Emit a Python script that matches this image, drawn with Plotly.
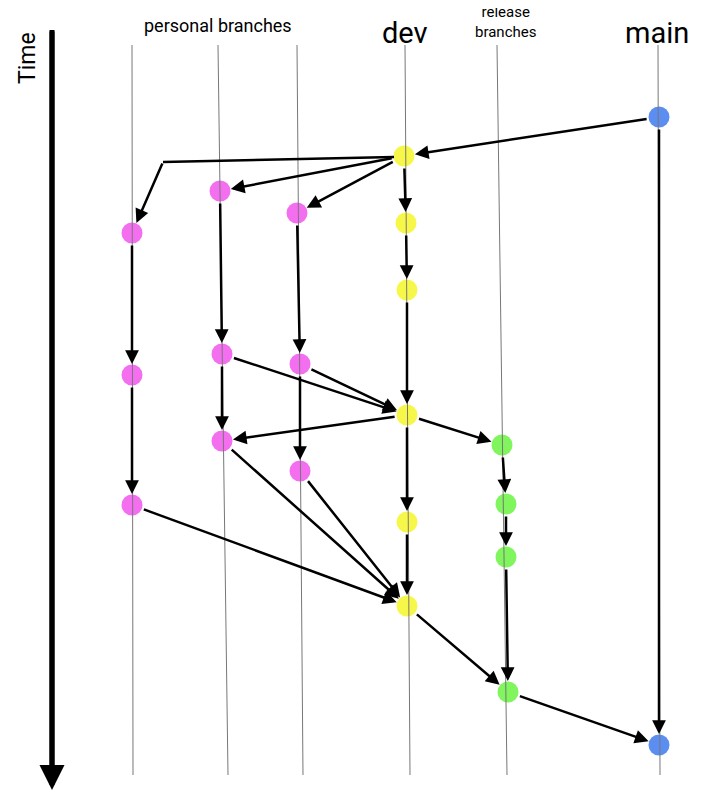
import plotly.graph_objects as go

# branch guide lines (top x, bottom x)
lane_top_x = [132, 218, 297, 405, 497, 658]
lane_bot_x = [133, 228, 303, 410, 507, 660]
lane_top_y = 45
lane_bot_y = 775

node_names = ["m1","m2","d1","d2","d3","d4","d5","d6","a1","a2","a3","b1","b2","b3","c1","c2","c3","r1","r2","r3","r4"]
node_x = [659,659,404,406,407,407,407,407,132,132,132,220,222,222,297,300,300,502,506,506,508]
node_y = [117,745,156,223,290,415,522,606,233,375,505,191,354,441,213,364,471,445,504,557,692]
BLUE, YEL, PINK, GRN = "#5b8ef0", "#f7f74a", "#f46ef0", "#80f55e"
node_col = [BLUE,BLUE]+[YEL]*6+[PINK]*9+[GRN]*4

edges = [("m1","d1"),("d1","b1"),("d1","c1"),("d1","d2"),("d2","d3"),("d3","d4"),
         ("a1","a2"),("a2","a3"),("b1","b2"),("b2","b3"),("c1","c2"),("c2","c3"),
         ("b2","d4"),("c2","d4"),("d4","b3"),("d4","r1"),("d4","d5"),("d5","d6"),
         ("a3","d6"),("b3","d6"),("c3","d6"),("r1","r2"),("r2","r3"),("r3","r4"),
         ("d6","r4"),("r4","m2"),("m1","m2")]
elbow = (163, 162)

pos = {n:(x,y) for n,x,y in zip(node_names,node_x,node_y)}

fig = go.Figure()
shapes = []
for tx,bx in zip(lane_top_x,lane_bot_x):
    shapes.append(dict(type="line",x0=tx,y0=lane_top_y,x1=bx,y1=lane_bot_y,
                       line=dict(color="#777",width=1)))
shapes.append(dict(type="line",x0=pos["d1"][0]-10,y0=pos["d1"][1]+1,x1=elbow[0],y1=elbow[1],
                   line=dict(color="black",width=2.5)))
shapes.append(dict(type="line",x0=52,y0=30,x1=52,y1=785,line=dict(color="black",width=5)))

ann = []
def arrow(x0,y0,x1,y1,ss=11,st=11,w=2.5,hs=1.1):
    ann.append(dict(x=x1,y=y1,ax=x0,ay=y0,xref="x",yref="y",axref="x",ayref="y",
                    showarrow=True,arrowhead=2,arrowsize=hs,arrowwidth=w,arrowcolor="black",
                    standoff=st,startstandoff=ss,text=""))
for a,b in edges:
    arrow(*pos[a],*pos[b])
arrow(elbow[0],elbow[1],*pos["a1"],ss=0)
arrow(52,30,52,790,ss=0,st=0,w=5,hs=1)

def label(t,x,y,s):
    ann.append(dict(x=x,y=y,xref="x",yref="y",text=t,showarrow=False,
                    font=dict(size=s,color="black",family="Roboto")))
label("personal branches",218,25,18)
label("dev",405,33,29)
label("release<br>branches",505,22,15)
label("main",657,33,29)
ann.append(dict(x=27,y=58,xref="x",yref="y",text="Time",showarrow=False,textangle=-90,
                font=dict(size=23,color="black",family="Roboto")))

fig.add_trace(go.Scatter(x=node_x,y=node_y,mode="markers",
                         marker=dict(size=21,color=node_col,line=dict(width=0)),hoverinfo="skip"))
fig.update_layout(width=708,height=809,margin=dict(l=0,r=0,t=0,b=0),
                  plot_bgcolor="white",paper_bgcolor="white",showlegend=False,
                  shapes=shapes,annotations=ann,
                  xaxis=dict(range=[8,716],visible=False,fixedrange=True),
                  yaxis=dict(range=[817,8],visible=False,fixedrange=True))
fig.write_html("out.html")
